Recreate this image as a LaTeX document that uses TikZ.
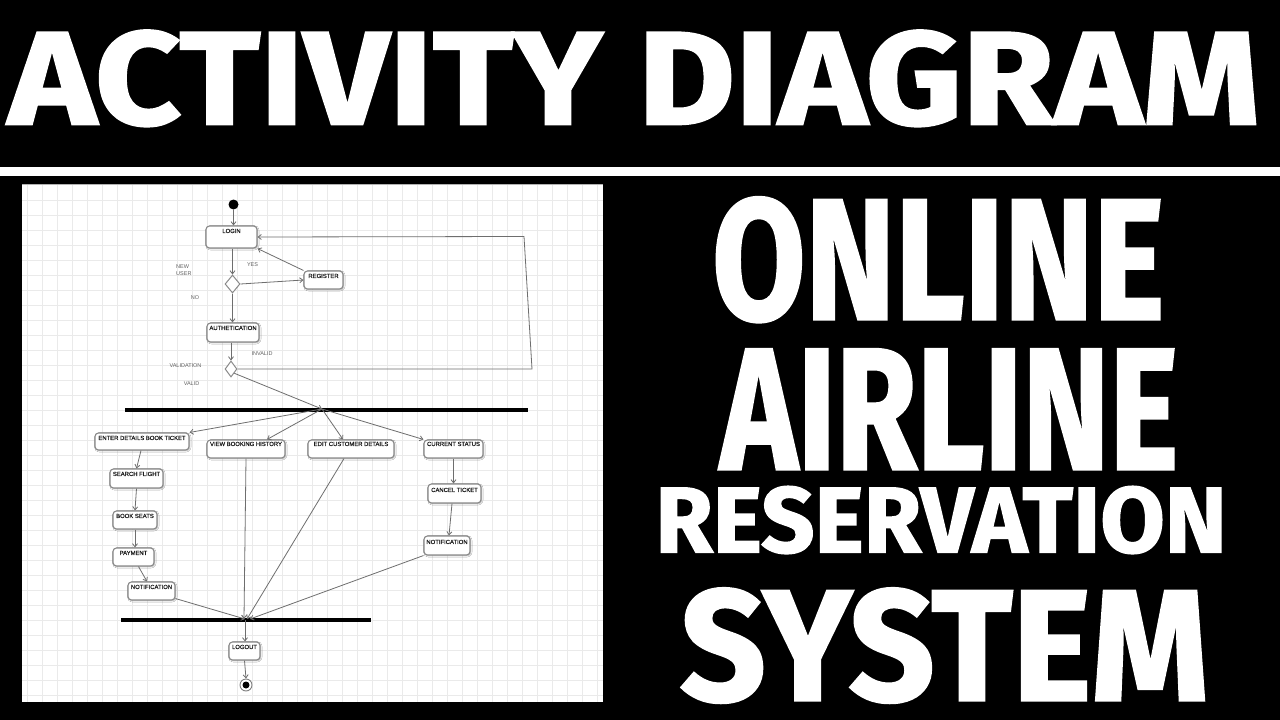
\documentclass[tikz,border=0pt]{standalone}
\usepackage{fontspec}
\usepackage{graphicx}
\usetikzlibrary{arrows.meta,shapes.geometric,calc,shadows.blur}
\newfontfamily\bigfont[FakeBold=1.6]{Fira Sans}
\newfontfamily\diagfont{Liberation Sans}
\newfontfamily\diagbold[FakeBold=0.6]{Liberation Sans}
\definecolor{ln}{HTML}{6E6E6E}
\definecolor{bx}{HTML}{8A8A8A}
\definecolor{gridc}{HTML}{EAEAEA}
\definecolor{tx}{HTML}{1E1E1E}
\tikzset{
  arr/.style={draw=ln, line width=0.8pt, -{Straight Barb[length=3.2pt,width=5pt]}},
  act/.style={draw=bx, line width=1.1pt, rounded corners=3.5pt, fill=white, inner sep=0pt,
    blur shadow={shadow xshift=0.8pt, shadow yshift=-0.8pt, shadow blur radius=1.2pt, shadow blur steps=4, shadow opacity=35}},
  blbl/.style={font=\diagbold\fontsize{5.9}{6.5}\selectfont, text=tx, inner sep=0pt, anchor=center, yshift=-5.5pt},
  small/.style={font=\diagfont\fontsize{5.5}{7}\selectfont, text=tx!70, inner sep=0pt, align=left},
  dec/.style={diamond, draw=bx, line width=1pt, fill=white, inner sep=0pt},
  bar/.style={draw=black, line width=3.8pt},
  bigtxt/.style={text=white, inner sep=0pt, anchor=north west}
}
\begin{document}
\begin{tikzpicture}[x=1pt,y=-1pt]
\useasboundingbox (0,0) rectangle (1280,720);
\fill[black] (0,0) rectangle (1280,720);
% white separator
\fill[white] (0,167) rectangle (1280,176);
% panel
\fill[white] (22,184) rectangle (603,702);
\foreach \gx in {27,42,...,597} \draw[gridc, line width=0.6pt] (\gx,184) -- (\gx,702);
\foreach \gy in {200,215,...,700} \draw[gridc, line width=0.6pt] (22,\gy) -- (603,\gy);
\draw[gray!60, line width=0.6pt] (22,184.5) -- (603,184.5);

% titles
\node[bigtxt] (title) at (8,30) {\resizebox{1250pt}{94pt}{\bigfont\bfseries ACTIVITY DIAGRAM}};
\node[bigtxt] (t1) at (712,197) {\resizebox{452pt}{122pt}{\bigfont\bfseries ONLINE}};
\node[bigtxt] (t2) at (720,349) {\resizebox{458pt}{120pt}{\bigfont\bfseries AIRLINE}};
\node[bigtxt] (t3) at (655,486) {\resizebox{571pt}{66pt}{\bigfont\bfseries RESERVATION}};
\node[bigtxt] (t4) at (680,588) {\resizebox{528pt}{112pt}{\bigfont\bfseries SYSTEM}};

% activity diagram nodes
\node[circle, fill=black, minimum size=10pt, inner sep=0pt] (start) at (233.5,204.5) {};
\node[act, minimum width=51pt, minimum height=22pt, label={[blbl]north:LOGIN}] (login) at (231.5,237) {};
\node[dec, minimum width=15pt, minimum height=18pt] (d1) at (232.5,284) {};
\node[act, minimum width=39pt, minimum height=18pt, label={[blbl]north:REGISTER}] (register) at (323.5,280) {};
\node[act, minimum width=52pt, minimum height=19pt, label={[blbl]north:AUTHETICATION}] (auth) at (233,332.5) {};
\node[dec, minimum width=12pt, minimum height=16pt] (d2) at (231,369) {};

\node[small, anchor=west] (newuser) at (176,270.5) {NEW\\USER};
\node[small] (yes) at (252.5,265) {YES};
\node[small] (no) at (195,298) {NO};
\node[small] (invalid) at (262,354) {INVALID};
\node[small] (validation) at (185.5,366) {VALIDATION};
\node[small] (valid) at (191.5,384) {VALID};

\coordinate (c1) at (532,369);
\coordinate (c2) at (524,236.5);
\coordinate (fl) at (125,410);
\coordinate (fr) at (528,410);
\coordinate (fork) at (322,409);
\coordinate (jl) at (121,620);
\coordinate (jr) at (371,620);
\coordinate (join) at (245,619);

\node[act, minimum width=94pt, minimum height=17pt, label={[blbl]north:ENTER DETAILS BOOK TICKET}] (enter) at (142,441.5) {};
\node[act, minimum width=78pt, minimum height=18pt, label={[blbl, yshift=1pt]north:VIEW BOOKING HISTORY}] (view) at (246,449) {};
\node[act, minimum width=86pt, minimum height=18pt, label={[blbl, yshift=1pt]north:EDIT CUSTOMER DETAILS}] (edit) at (351,449) {};
\node[act, minimum width=59pt, minimum height=18pt, label={[blbl, yshift=1pt]north:CURRENT STATUS}] (current) at (453.5,449) {};
\node[act, minimum width=53pt, minimum height=19pt, label={[blbl]north:SEARCH FLIGHT}] (search) at (136.5,478.5) {};
\node[act, minimum width=44pt, minimum height=18pt, label={[blbl]north:BOOK SEATS}] (book) at (135,520) {};
\node[act, minimum width=41pt, minimum height=18pt, label={[blbl]north:PAYMENT}] (payment) at (133.5,557) {};
\node[act, minimum width=47pt, minimum height=18pt, label={[blbl]north:NOTIFICATION}] (notifL) at (151.5,591) {};
\node[act, minimum width=53pt, minimum height=19pt, label={[blbl, yshift=-1pt]north:CANCEL TICKET}] (cancel) at (454.5,493.5) {};
\node[act, minimum width=46pt, minimum height=19pt, label={[blbl, yshift=-1pt]north:NOTIFICATION}] (notifR) at (447,545.5) {};
\node[act, minimum width=31pt, minimum height=18pt, label={[blbl]north:LOGOUT}] (logout) at (244.5,651) {};
\node[circle, draw=gray, line width=0.9pt, fill=white, minimum size=12pt, inner sep=0pt] (endn) at (246,685) {};
\node[circle, fill=black, minimum size=7pt, inner sep=0pt] (endi) at (endn) {};

% bars
\draw[bar] (fl) -- (fr);
\draw[bar] (jl) -- (jr);

% connectors
\draw[arr] (start) -- (start |- login.north);
\draw[arr] (login.south -| d1.north) -- (d1.north);
\draw[arr] (d1.east) -- (register.west);
\draw[arr] (register.north west) -- (login.south east);
\draw[arr] (d1.south) -- (d1.south |- auth.north);
\draw[arr] (auth.south -| d2.north) -- (d2.north);
\draw[arr] (d2.east) -- (c1) -- (c2) -- (login.east);
\draw[arr] (d2.south east) -- (fork);
\draw[arr] (fork) -- (enter.north east);
\draw[arr] (fork) -- ($(view.north)+(21,0)$);
\draw[arr] (fork) -- ($(edit.north)+(-8,0)$);
\draw[arr] (fork) -- (current.north west);
\draw[arr] ($(enter.south)+(-1,0)$) -- (search.north);
\draw[arr] (search.south) -- (book.north);
\draw[arr] (book.south) -- (book.south |- payment.north);
\draw[arr] ($(payment.south)+(5,0)$) -- ($(notifL.north)+(-4.5,0)$);
\draw[arr] ($(notifL.south east)+(0,-2)$) -- (join);
\draw[arr] (view.south) -- ($(join)+(-1,0)$);
\draw[arr] ($(edit.south)+(-7,0)$) -- ($(join)+(2,0)$);
\draw[arr] (notifR.south west) -- ($(join)+(5,0)$);
\draw[arr] (current.south) -- (current.south |- cancel.north);
\draw[arr] ($(cancel.south)+(-2.5,0)$) -- ($(notifR.north)+(2,0)$);
\draw[arr] (join |- jl) -- (join |- logout.north);
\draw[arr] (logout.south) -- (endn.north);
\end{tikzpicture}
\end{document}
